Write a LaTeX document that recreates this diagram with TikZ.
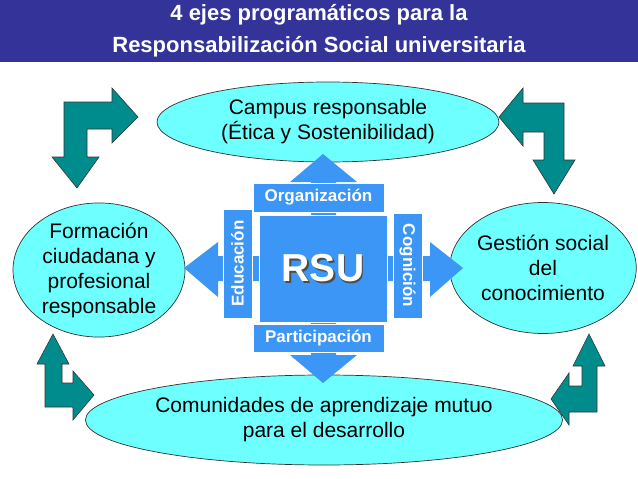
\documentclass[tikz,border=0pt]{standalone}
\usepackage{fontspec}
\setmainfont{Liberation Sans}
\usetikzlibrary{shapes.geometric}
\definecolor{bandblue}{RGB}{51,51,153}
\definecolor{ejecyan}{RGB}{110,255,255}
\definecolor{rsublue}{RGB}{60,150,245}
\definecolor{bentteal}{RGB}{0,140,140}
\tikzset{
  eje/.style={ellipse,draw=black!80,line width=.7pt,fill=ejecyan,inner sep=0pt,
    align=center,font=\fontsize{21}{25}\selectfont},
  bent/.style={fill=bentteal,draw=black!80,line width=.6pt},
  bar/.style={fill=rsublue,draw=white,line width=1pt,inner sep=0pt,text=white,
    font=\bfseries\fontsize{17}{20}\selectfont},
}
\begin{document}
\begin{tikzpicture}[x=1pt,y=-1pt]
\useasboundingbox (0,0) rectangle (638,479);
\fill[bandblue] (0,0) rectangle (638,62);
\node[text=white,align=center,font=\bfseries\fontsize{22}{32}\selectfont] (titulo) at (319,31)
  {4 ejes programáticos para la\\Responsabilización Social universitaria};

% bent arrows
\draw[bent] (64,102)--(112,102)--(112,88)--(138,117)--(112,143)--(112,129)--(87,129)
  --(87,157)--(99,157)--(77,188)--(52,157)--(64,157)--cycle;
\draw[bent] (499,117)--(523,88)--(523,103)--(564,103)--(564,160)--(575,160)--(554,194)
  --(533,160)--(544,160)--(544,132)--(523,132)--(523,146)--cycle;
\draw[bent] (53,334)--(69,364)--(62,364)--(62,383)--(73,383)--(73,371)--(94,395)
  --(73,420)--(73,407)--(45,407)--(45,364)--(37,364)--cycle;
\draw[bent] (589,334)--(605,366)--(597,366)--(597,412)--(569,412)--(569,425)--(551,399)
  --(569,373)--(569,386)--(582,386)--(582,366)--(573,366)--cycle;

\node[eje,minimum width=342pt,minimum height=80pt] (campus) at (328,122)
  {Campus responsable\\(Ética y Sostenibilidad)};
\node[eje,minimum width=172pt,minimum height=130pt] (formacion) at (99,270)
  {Formación\\ciudadana y\\profesional\\responsable};
\node[eje,minimum width=166pt,minimum height=131pt] (gestion) at (543,268)
  {Gestión social\\del\\conocimiento};
\node[eje,minimum width=462pt,minimum height=90pt] (comunidades) at (324,420)
  {Comunidades de aprendizaje mutuo\\para el desarrollo};

% RSU
\fill[rsublue] (323,154)--(357,182)--(336,182)--(336,256)--(430,256)--(430,242)--(463,268)
  --(430,297)--(430,281)--(336,281)--(336,355)--(357,355)--(323,383)--(290,355)--(311,355)
  --(311,281)--(218,281)--(218,297)--(184,268)--(218,242)--(218,256)--(311,256)
  --(311,182)--(290,182)--cycle;
\node[bar,minimum width=131pt,minimum height=29pt] (organizacion) at (318.5,197.5) {Organización};
\node[bar,minimum width=131pt,minimum height=28pt] (participacion) at (318.5,338) {Participación};
\node[bar,rotate=90,minimum width=109pt,minimum height=29pt] (educacion) at (237.5,263.5) {Educación};
\node[bar,rotate=-90,minimum width=105pt,minimum height=29pt] (cognicion) at (407.5,265.5) {Cognición};
\node[bar,minimum width=128pt,minimum height=107pt] (nucleo) at (323,268.5) {};
\node[text=black!70,font=\bfseries\fontsize{39}{44}\selectfont] (rsusombra) at (324.5,270) {RSU};
\node[text=white,font=\bfseries\fontsize{39}{44}\selectfont] (rsu) at (nucleo) {RSU};
\end{tikzpicture}
\end{document}
